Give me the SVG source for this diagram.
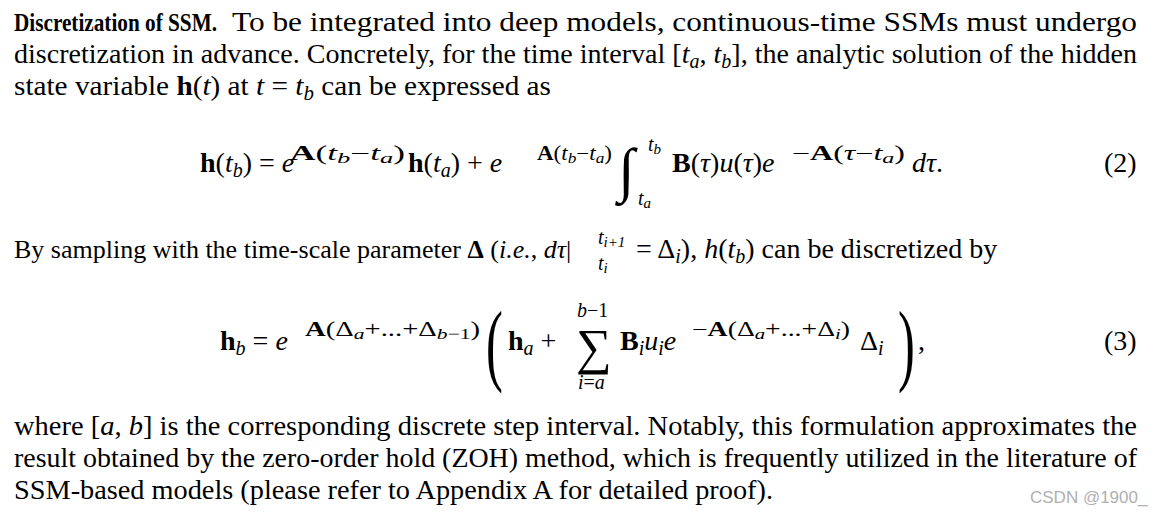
<svg xmlns="http://www.w3.org/2000/svg" width="1157" height="515" viewBox="0 0 1157 515">
<style>
text{font-family:"Liberation Serif","DejaVu Serif",serif;font-size:28px;fill:#000}
.i{font-style:italic}.b{font-weight:bold}
.s{font-size:20px}.ss{font-size:15px}
.wm{font-family:"Liberation Sans",Arial,sans-serif;font-size:17px;fill:#b0b0b0}
</style>
<rect width="1157" height="515" fill="#fff"/>
<text x="14" y="31" class="b" style="font-size:25px" textLength="203" lengthAdjust="spacingAndGlyphs">Discretization of SSM.</text>
<text x="232" y="31" textLength="905" lengthAdjust="spacingAndGlyphs">To be integrated into deep models, continuous-time SSMs must undergo</text>
<text x="14" y="63" textLength="1123" lengthAdjust="spacingAndGlyphs">discretization in advance. Concretely, for the time interval [<tspan class="i">t</tspan><tspan class="s" dy="5" font-style="italic">a</tspan><tspan dy="-5">, </tspan><tspan class="i">t</tspan><tspan class="s" dy="5" font-style="italic">b</tspan><tspan dy="-5">], the analytic solution of the hidden</tspan></text>
<text x="14" y="95" textLength="537" lengthAdjust="spacingAndGlyphs">state variable <tspan class="b">h</tspan>(<tspan class="i">t</tspan>) at <tspan class="i">t</tspan> = <tspan class="i">t</tspan><tspan class="s" dy="5" font-style="italic">b</tspan><tspan dy="-5"> can be expressed as</tspan></text>

<g id="eq2">
<text x="200" y="172"><tspan class="b">h</tspan>(<tspan class="i">t</tspan><tspan class="s" dy="5" font-style="italic">b</tspan><tspan dy="-5">) = </tspan><tspan class="i">e</tspan></text>
<text x="290" y="160" class="s" textLength="115" lengthAdjust="spacingAndGlyphs"><tspan class="b">A</tspan>(<tspan class="i">t</tspan><tspan class="ss" dy="3" font-style="italic">b</tspan><tspan dy="-3">−</tspan><tspan class="i">t</tspan><tspan class="ss" dy="3" font-style="italic">a</tspan><tspan dy="-3">)</tspan></text>
<text x="408" y="172"><tspan class="b">h</tspan>(<tspan class="i">t</tspan><tspan class="s" dy="5" font-style="italic">a</tspan><tspan dy="-5">) + </tspan><tspan class="i">e</tspan></text>
<text x="537" y="160" class="s" textLength="75" lengthAdjust="spacingAndGlyphs"><tspan class="b">A</tspan>(<tspan class="i">t</tspan><tspan class="ss" dy="3" font-style="italic">b</tspan><tspan dy="-3">−</tspan><tspan class="i">t</tspan><tspan class="ss" dy="3" font-style="italic">a</tspan><tspan dy="-3">)</tspan></text>
<text x="618" y="190" style="font-size:60px;font-style:italic">∫</text>
<text x="648" y="151" class="s i">t<tspan class="ss" dy="3">b</tspan></text>
<text x="638" y="205" class="s i">t<tspan class="ss" dy="3">a</tspan></text>
<text x="672" y="172"><tspan class="b">B</tspan>(<tspan class="i">τ</tspan>)<tspan class="i">u</tspan>(<tspan class="i">τ</tspan>)<tspan class="i">e</tspan></text>
<text x="792" y="160" class="s" textLength="113" lengthAdjust="spacingAndGlyphs">−<tspan class="b">A</tspan>(<tspan class="i">τ</tspan>−<tspan class="i">t</tspan><tspan class="ss" dy="3" font-style="italic">a</tspan><tspan dy="-3">)</tspan></text>
<text x="912" y="172"><tspan class="i">dτ</tspan>.</text>
<text x="1104" y="172">(2)</text>
</g>

<text x="14" y="258" style="font-size:26px">By sampling with the time-scale parameter <tspan class="b">Δ</tspan> (<tspan class="i">i.e.</tspan>, <tspan class="i">dτ</tspan>|</text>
<text x="598" y="244" class="s i">t<tspan class="ss" dy="3">i</tspan><tspan class="ss" dy="0">+1</tspan></text>
<text x="598" y="270" class="s i">t<tspan class="ss" dy="3">i</tspan></text>
<text x="636" y="258">= Δ<tspan class="s i" dy="5">i</tspan><tspan dy="-5">), </tspan><tspan class="i">h</tspan>(<tspan class="i">t</tspan><tspan class="s i" dy="5">b</tspan><tspan dy="-5">) can be discretized by</tspan></text>

<g id="eq3">
<text x="220" y="350"><tspan class="b">h</tspan><tspan class="s i" dy="5">b</tspan><tspan dy="-5"> = </tspan><tspan class="i">e</tspan></text>
<text x="305" y="336" class="s" textLength="175" lengthAdjust="spacingAndGlyphs"><tspan class="b">A</tspan>(Δ<tspan class="ss i" dy="3">a</tspan><tspan dy="-3">+...+Δ</tspan><tspan class="ss" dy="3"><tspan font-style="italic">b</tspan>−1</tspan><tspan dy="-3">)</tspan></text>
<text x="486" y="374" style="font-size:92px;font-weight:100" transform="translate(486 374) scale(0.55 1) translate(-486 -374)">(</text>
<text x="508" y="350"><tspan class="b">h</tspan><tspan class="s i" dy="5">a</tspan><tspan dy="-5"> +</tspan></text>
<text x="576" y="364" style="font-size:50px">∑</text>
<text x="577" y="317" class="s"><tspan class="i">b</tspan>−1</text>
<text x="578" y="389" class="s"><tspan class="i">i</tspan>=<tspan class="i">a</tspan></text>
<text x="620" y="350"><tspan class="b">B</tspan><tspan class="s i" dy="5">i</tspan><tspan class="i" dy="-5">u</tspan><tspan class="s i" dy="5">i</tspan><tspan class="i" dy="-5">e</tspan></text>
<text x="692" y="336" class="s" textLength="158" lengthAdjust="spacingAndGlyphs">−<tspan class="b">A</tspan>(Δ<tspan class="ss i" dy="3">a</tspan><tspan dy="-3">+...+Δ</tspan><tspan class="ss i" dy="3">i</tspan><tspan dy="-3">)</tspan></text>
<text x="860" y="350">Δ<tspan class="s i" dy="5">i</tspan></text>
<text x="898" y="374" style="font-size:92px;font-weight:100" transform="translate(898 374) scale(0.55 1) translate(-898 -374)">)</text>
<text x="918" y="350">,</text>
<text x="1104" y="350">(3)</text>
</g>

<text x="14" y="435" textLength="1123" lengthAdjust="spacingAndGlyphs">where [<tspan class="i">a</tspan>, <tspan class="i">b</tspan>] is the corresponding discrete step interval. Notably, this formulation approximates the</text>
<text x="14" y="467" textLength="1123" lengthAdjust="spacingAndGlyphs">result obtained by the zero-order hold (ZOH) method, which is frequently utilized in the literature of</text>
<text x="14" y="499" textLength="759" lengthAdjust="spacingAndGlyphs">SSM-based models (please refer to Appendix A for detailed proof).</text>
<text x="1030" y="503" class="wm">CSDN @1900_</text>
</svg>
